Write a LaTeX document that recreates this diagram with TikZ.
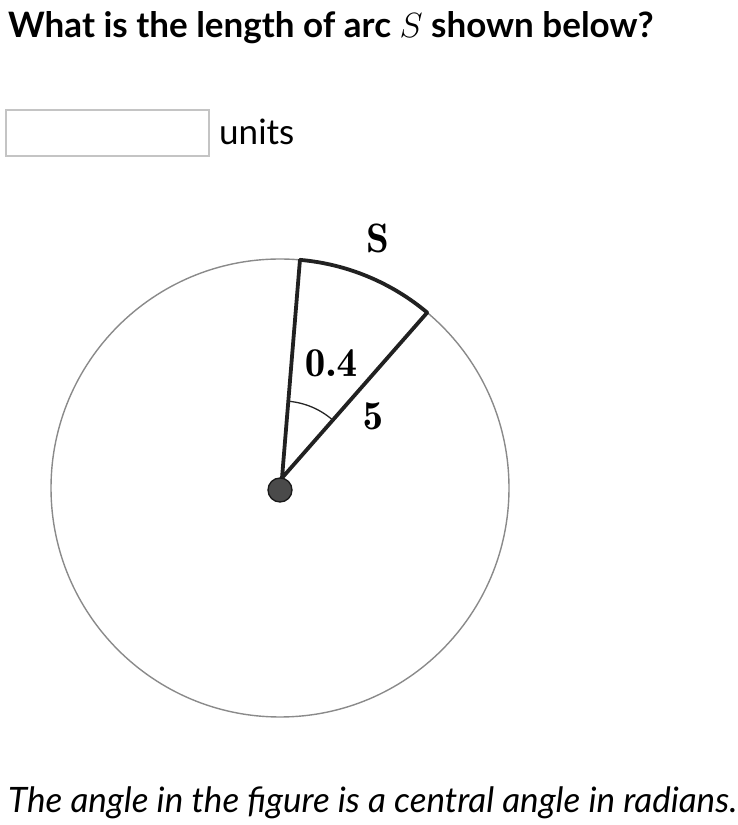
\RequirePackage{fix-cm}
\documentclass[tikz,border=0pt]{standalone}
\usepackage[no-math]{fontspec}
\setmainfont{Lato}
\usepackage{amsmath}
\usepackage{tikz}
\usetikzlibrary{positioning, calc}

\font\labelfont=cmb10 at 41pt

\definecolor{rimgray}{HTML}{8A8A8A}
\definecolor{boxgray}{HTML}{C4C4C4}
\definecolor{dotgray}{HTML}{4A4A4A}

\begin{document}
\begin{tikzpicture}[
    x=1pt, y=1pt,
    rim/.style={draw=rimgray, line width=1.4pt},
    radius line/.style={draw=black!87, line width=3.8pt, line join=round, line cap=round},
    anglemark/.style={draw=black!85, line width=1.3pt},
    answerbox/.style={draw=boxgray, line width=2.2pt},
    label/.style={font=\labelfont, inner sep=0pt},
    text line/.style={anchor=base west, inner sep=0pt}
]
    \useasboundingbox (0,0) rectangle (738,825);

    % === Question ===
    \node[text line, font=\fontsize{35}{42}\selectfont\bfseries] (title) at (8, 787.5)
        {What is the length of arc $S$ shown below?};

    % === Answer box ===
    \draw[answerbox] (6, 669) rectangle (209, 715);
    \node[text line, font=\fontsize{35}{42}\selectfont] (units) at (219, 680) {units};

    % === Circle and sector ===
    \coordinate (O) at (280, 337);
    \coordinate (apex) at (282, 347);
    \coordinate (A) at ($(O)+(85:229pt)$);
    \coordinate (B) at ($(O)+(50:229pt)$);
    \draw[rim] (O) circle[radius=229pt];

    \draw[radius line] (A) -- (apex) -- (B);
    \draw[radius line] (A) arc[start angle=85, end angle=50, radius=229pt];

    % angle mark
    \draw[anglemark] ($(apex)+(85.3:77pt)$) arc[start angle=85.3, end angle=48.7, radius=77pt];

    % centre dot
    \filldraw[fill=dotgray, draw=black!90, line width=1.3pt] (280, 335) circle[radius=12pt];

    % labels
    \node[label] (arcname) at (377.5, 586.3) {S};
    \node[label] (angle) at (331, 461.7) {0.4};
    \node[label] (len) at (372.8, 408.8) {5};

    % === Note ===
    \node[text line, font=\fontsize{35}{42}\selectfont\itshape] (note) at (8, 12.3)
        {The angle in the figure is a central angle in radians.};

\end{tikzpicture}
\end{document}
